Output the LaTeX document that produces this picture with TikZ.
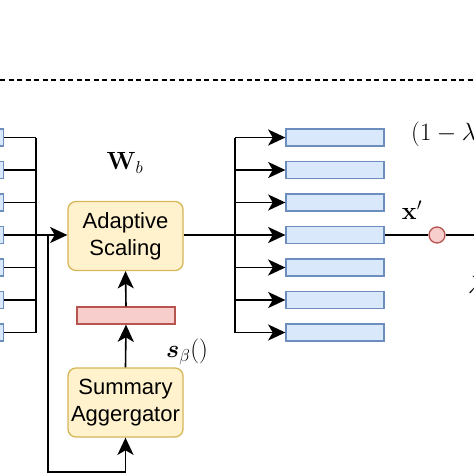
\documentclass[tikz,border=0pt]{standalone}
\usepackage[no-math]{fontspec}
\setmainfont{Liberation Sans}
\usepackage{amsmath,bm}
\usetikzlibrary{arrows.meta}
\definecolor{bfill}{HTML}{DAE8FC}
\definecolor{bline}{HTML}{6C8EBF}
\definecolor{yfill}{HTML}{FFF2CC}
\definecolor{yline}{HTML}{D6B656}
\definecolor{pfill}{HTML}{F8CECC}
\definecolor{pline}{HTML}{B85450}
\tikzset{
  vec/.style={draw=bline,fill=bfill,line width=1.3pt,minimum width=98pt,minimum height=17pt,inner sep=0pt},
  ybox/.style={draw=yline,fill=yfill,line width=1.3pt,rounded corners=8pt,minimum width=115pt,minimum height=69pt,align=center,inner sep=0pt,font=\fontsize{22}{27}\selectfont},
  pbar/.style={draw=pline,fill=pfill,line width=1.3pt,minimum width=98pt,minimum height=17pt,inner sep=0pt},
  dot/.style={circle,draw=pline,fill=pfill,line width=1.3pt,minimum size=16pt,inner sep=0pt},
  conn/.style={line width=1.6pt,black},
  arr/.style={conn,-{Stealth[length=15pt,width=14pt,inset=4pt,scale=1.15]}},
  mlab/.style={inner sep=0pt,font=\fontsize{26}{30}\selectfont},
}
\begin{document}
\begin{tikzpicture}[x=1pt,y=-1pt]
\useasboundingbox (0,0) rectangle (474,474);
% dashed separator
\coordinate (dl) at (0,80);
\coordinate (dr) at (474,80);
\draw[line width=1.5pt,dash pattern=on 5pt off 3.5pt] (dl) -- (dr);
% vectors
\foreach \i/\y in {1/137.5,2/170,3/202.5,4/235,5/267.5,6/300,7/332.5}{
  \node[vec] (L\i) at (-45.5,\y) {};
  \node[vec] (R\i) at (335,\y) {};
}
\coordinate (busL) at (36,0);
\coordinate (busR) at (235,0);
\foreach \i in {1,2,3,5,6,7}{
  \draw[conn] (L\i.east) -- (L\i.east -| busL);
}
\draw[conn] (L1.east -| busL) -- (L7.east -| busL);
% main blocks
\node[ybox] (ad) at (125.5,236) {Adaptive\\Scaling};
\node[pbar] (pb) at (126,315.5) {};
\node[ybox] (sa) at (125.5,402.5) {Summary\\Aggergator};
\node[mlab] (wb) at (125,163) {$\mathbf{W}_b$};
\node[mlab] (sb) at (187,352) {$\bm{s}_\beta()$};
% input to adaptive scaling
\draw[arr] (L4.east) -- (ad.west |- L4.east);
% branch to summary aggregator
\coordinate (br) at (48,235);
\coordinate (bb) at (48,472);
\coordinate (bc) at (ad.south |- bb);
\draw[arr] (br) -- (bb) -- (bc) -- (sa.south);
\draw[arr] (sa.north) -- (pb.south);
\draw[arr] (pb.north) -- (ad.south);
% output bus
\draw[conn] (ad.east |- R4.west) -- (R4.west -| busR);
\draw[conn] (R1.west -| busR) -- (R7.west -| busR);
\foreach \i in {1,...,7}{
  \draw[arr] (R\i.west -| busR) -- (R\i.west);
}
% output
\node[dot] (mix) at (437,235) {};
\coordinate (outr) at (480,235);
\draw[conn] (R4.east) -- (mix.west);
\draw[conn] (mix.east) -- (outr);
\node[mlab] (xp) at (412,210) {$\mathbf{x}'$};
\node[mlab,anchor=west] (lam) at (411,134) {$(1-\lambda)$};
\node[mlab,anchor=west] (lam2) at (468,285) {$\lambda$};
\end{tikzpicture}
\end{document}
